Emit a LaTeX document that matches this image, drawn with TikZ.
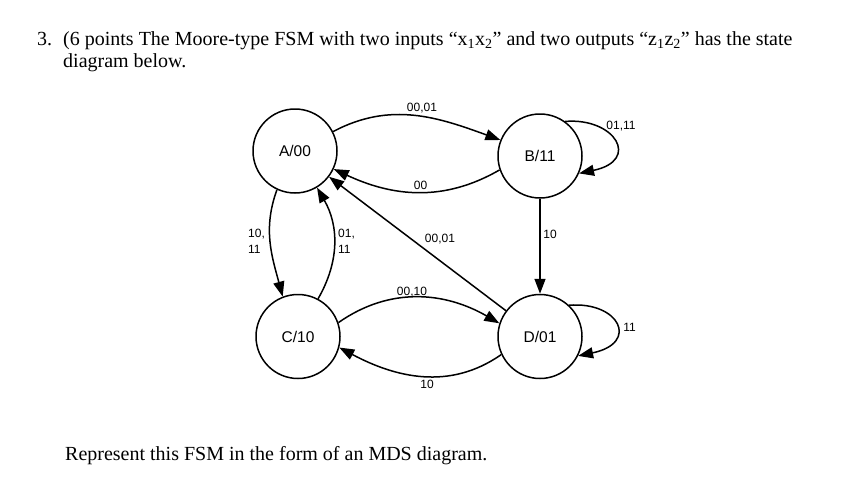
\documentclass[tikz,border=0pt]{standalone}
\usepackage{fontspec}
\setmainfont{Liberation Serif}
\newfontfamily\arialf{Liberation Sans}
\usetikzlibrary{arrows.meta}
\tikzset{
  state/.style={draw, circle, line width=1.5pt, minimum size=84pt, inner sep=0pt,
    font=\arialf\fontsize{15.5}{18}\selectfont},
  edge/.style={line width=1.5pt, -{Triangle[length=15pt,width=11pt]}},
  lbl/.style={font=\arialf\fontsize{12}{16}\selectfont, inner sep=0pt},
  para/.style={font=\fontsize{20}{22}\selectfont, inner sep=0pt}
}
\begin{document}
\begin{tikzpicture}[x=1pt,y=-1pt]
\useasboundingbox (0,0) rectangle (842,493);
% heading
\node[para, anchor=base west] (num) at (37,45) {3.};
\node[para, anchor=base west, align=left] (q) at (63,67)
  {(6 points The Moore-type FSM with two inputs “x\textsubscript{1}x\textsubscript{2}” and two outputs “z\textsubscript{1}z\textsubscript{2}” has the state\\diagram below.};
\node[para, anchor=base west] (task) at (65,460) {Represent this FSM in the form of an MDS diagram.};
% states
\node[state] (A) at (295,151) {A/00};
\node[state] (B) at (540,156) {B/11};
\node[state] (C) at (298,336.5) {C/10};
\node[state] (D) at (540,336.5) {D/01};
% edges
\draw[edge] (A.27) to[out=28,in=160] (B.158);
\draw[edge] (B.199) to[out=210,in=-25] (A.-25);
\draw[edge] (A.245) to[out=250,in=105] (C.111);
\draw[edge] (C.62) to[out=60,in=-60] (A.-59);
\draw[edge] (D) -- (A);
\draw[edge] (B) -- (D);
\draw[edge] (C.19) to[out=35,in=150] (D.162);
\draw[edge] (D.205) to[out=215,in=-28] (C.-15);
\draw[edge] (B.54) .. controls +(50,-4) and +(62,-13) .. (B.-24);
\draw[edge] (D.47) .. controls +(50,-4) and +(62,-13) .. (D.-27);
% labels
\node[lbl, anchor=base] (lab1) at (422,111) {00,01};
\node[lbl, anchor=base] (lab2) at (621,129) {01,11};
\node[lbl, anchor=base] (lab3) at (420.5,189) {00};
\node[lbl, anchor=base west, align=left] (lab4) at (248,253) {10,\\11};
\node[lbl, anchor=base west, align=left] (lab5) at (338,253) {01,\\11};
\node[lbl, anchor=base] (lab6) at (440,242) {00,01};
\node[lbl, anchor=base] (lab7) at (550,238) {10};
\node[lbl, anchor=base] (lab8) at (412,295) {00,10};
\node[lbl, anchor=base] (lab9) at (629.5,331) {11};
\node[lbl, anchor=base] (lab10) at (427,388) {10};
\end{tikzpicture}
\end{document}
